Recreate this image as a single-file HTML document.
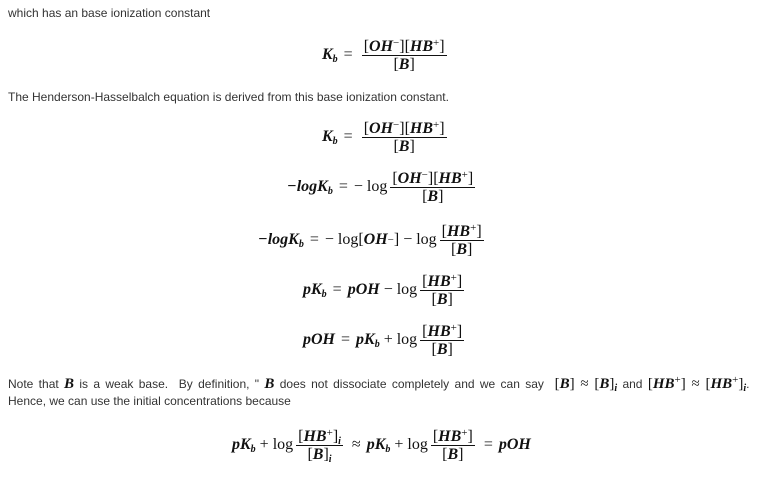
<!DOCTYPE html>
<html><head><meta charset="utf-8"><style>
body{margin:0;width:765px;height:480px;background:#fff;position:relative;overflow:hidden;font-family:"Liberation Sans",sans-serif;font-size:12px;color:#333}
.t{position:absolute;left:8px;white-space:nowrap}
.eq{position:absolute;display:flex;align-items:center;height:34px;font-family:"Liberation Serif",serif;font-size:16px;color:#111;white-space:nowrap}
.i{font-style:italic;font-weight:bold}
.f{display:inline-flex;flex-direction:column;align-items:center;margin:0 3px}
.f>span{padding:0 2px;line-height:17px}
.f>span:first-child{border-bottom:1px solid #111}
sup{font-size:11px;vertical-align:5px;line-height:0}
sub{font-size:10px;vertical-align:-3px;line-height:0}
.m{font-family:"Liberation Serif",serif;font-size:15px;color:#111}
.o{margin:0 6px}
.n{word-spacing:2px}
</style></head><body>
<div class="t" style="top:6px">which has an base ionization constant</div>
<div class="eq" style="left:322px;top:38px"><span class="i">K<sub>b</sub></span><span class="o">=</span><span class="f"><span>[<span class="i">OH</span><sup>−</sup>][<span class="i">HB</span><sup>+</sup>]</span><span>[<span class="i">B</span>]</span></span></div>
<div class="t" style="top:90px">The Henderson-Hasselbalch equation is derived from this base ionization constant.</div>
<div class="eq" style="left:322px;top:120px"><span class="i">K<sub>b</sub></span><span class="o">=</span><span class="f"><span>[<span class="i">OH</span><sup>−</sup>][<span class="i">HB</span><sup>+</sup>]</span><span>[<span class="i">B</span>]</span></span></div>
<div class="eq" style="left:287px;top:170px"><span class="i">−logK<sub>b</sub></span><span class="o">=</span>− log<span class="f"><span>[<span class="i">OH</span><sup>−</sup>][<span class="i">HB</span><sup>+</sup>]</span><span>[<span class="i">B</span>]</span></span></div>
<div class="eq" style="left:258px;top:223px"><span class="i">−logK<sub>b</sub></span><span class="o">=</span>− log[<span class="i">OH</span><sup>−</sup>] − log<span class="f"><span>[<span class="i">HB</span><sup>+</sup>]</span><span>[<span class="i">B</span>]</span></span></div>
<div class="eq" style="left:303px;top:273px"><span class="i">pK<sub>b</sub></span><span class="o">=</span><span class="i">pOH</span>&nbsp;− log<span class="f"><span>[<span class="i">HB</span><sup>+</sup>]</span><span>[<span class="i">B</span>]</span></span></div>
<div class="eq" style="left:303px;top:323px"><span class="i">pOH</span><span class="o">=</span><span class="i">pK<sub>b</sub></span>&nbsp;+ log<span class="f"><span>[<span class="i">HB</span><sup>+</sup>]</span><span>[<span class="i">B</span>]</span></span></div>
<div class="t n" style="top:376px">Note that <span class="m i">B</span> is a weak base.&nbsp; By definition, " <span class="m i">B</span> does not dissociate completely and we can say&nbsp; <span class="m">[<i><b>B</b></i>] ≈ [<i><b>B</b></i>]<sub><i><b>i</b></i></sub></span> and <span class="m">[<i><b>HB</b></i><sup>+</sup>] ≈ [<i><b>HB</b></i><sup>+</sup>]<sub><i><b>i</b></i></sub></span>.</div>
<div class="t" style="top:394px">Hence, we can use the initial concentrations because</div>
<div class="eq" style="left:232px;top:428px"><span class="i">pK<sub>b</sub></span>&nbsp;+ log<span class="f"><span>[<span class="i">HB</span><sup>+</sup>]<sub class="i">i</sub></span><span>[<span class="i">B</span>]<sub class="i">i</sub></span></span><span class="o">≈</span><span class="i">pK<sub>b</sub></span>&nbsp;+ log<span class="f"><span>[<span class="i">HB</span><sup>+</sup>]</span><span>[<span class="i">B</span>]</span></span><span class="o">=</span><span class="i">pOH</span></div>
</body></html>
